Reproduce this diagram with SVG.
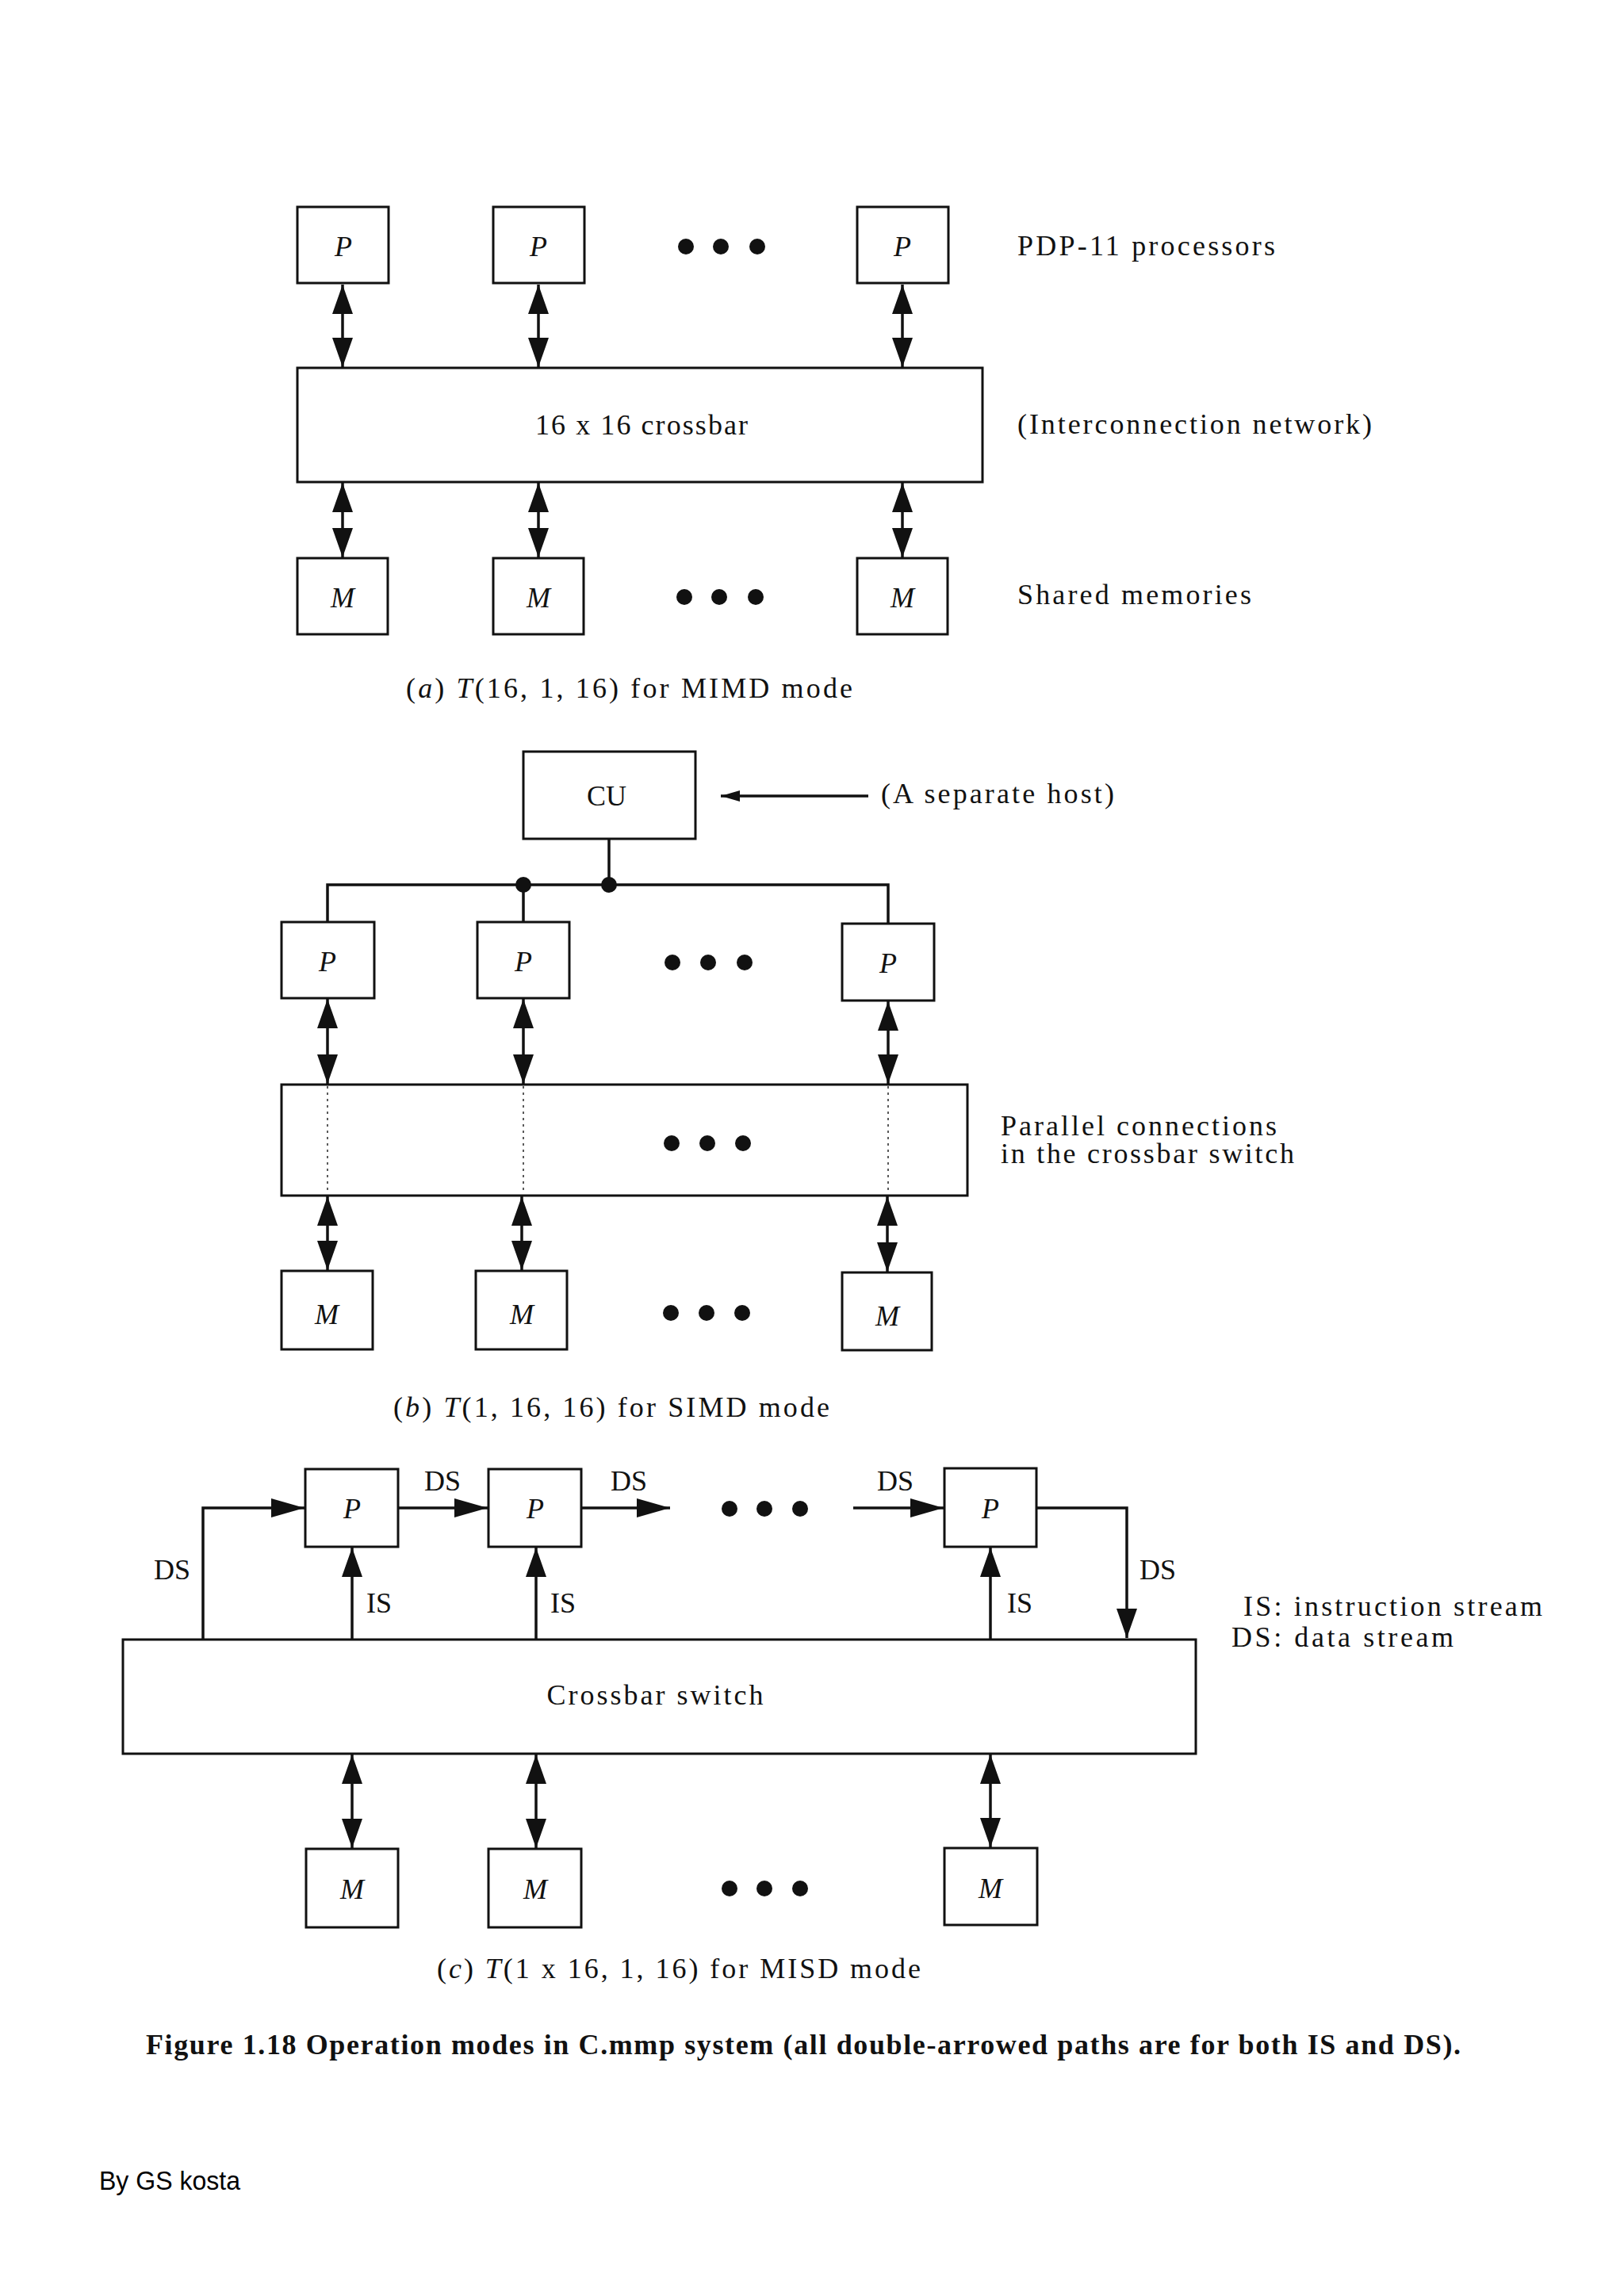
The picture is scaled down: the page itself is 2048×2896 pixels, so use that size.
<svg xmlns="http://www.w3.org/2000/svg" width="2048" height="2896" viewBox="0 0 2048 2896">
<defs>
<style>
.box{fill:#fff;stroke:#111;stroke-width:3}
.ln{fill:none;stroke:#111;stroke-width:3.5}
.dot{stroke:#333;stroke-width:1.6;stroke-dasharray:3 5}
.t{font-family:"Liberation Serif","Times New Roman",serif;font-size:36px;fill:#111}
.it{font-style:italic}
.c{text-anchor:middle}
.b{font-weight:bold}
.bd{fill:#111}
</style>
<marker id="ah" markerUnits="userSpaceOnUse" markerWidth="40" markerHeight="28" refX="37" refY="13" orient="auto-start-reverse" viewBox="0 0 40 28">
<path d="M0,0 L37,13 L0,26 z" fill="#111"/>
</marker>
<marker id="ahh" markerUnits="userSpaceOnUse" markerWidth="44" markerHeight="26" refX="42" refY="12" orient="auto-start-reverse" viewBox="0 0 44 26">
<path d="M0,0 L42,12 L0,24 z" fill="#111"/>
</marker>
<marker id="ahs" markerUnits="userSpaceOnUse" markerWidth="26" markerHeight="16" refX="24" refY="7" orient="auto" viewBox="0 0 26 16">
<path d="M0,0 L24,7 L0,14 z" fill="#111"/>
</marker>
</defs>
<rect width="2048" height="2896" fill="#fff"/>

<!-- (a) MIMD -->
<g id="a-P1"><rect class="box" x="375" y="261" width="115" height="96"/><text class="t it c" x="433" y="323">P</text></g>
<g id="a-P2"><rect class="box" x="622" y="261" width="115" height="96"/><text class="t it c" x="679" y="323">P</text></g>
<g id="a-P3"><rect class="box" x="1081" y="261" width="115" height="96"/><text class="t it c" x="1138" y="323">P</text></g>
<g id="a-dots-top"><circle class="bd" cx="865" cy="311" r="10"/><circle class="bd" cx="909" cy="311" r="10"/><circle class="bd" cx="955" cy="311" r="10"/></g>
<g id="a-crossbar"><rect class="box" x="375" y="464" width="864" height="144"/><text class="t c" x="809" y="548" textLength="268" lengthAdjust="spacing">16 x 16 crossbar</text></g>
<g id="a-M1"><rect class="box" x="375" y="704" width="114" height="96"/><text class="t it c" x="432" y="766">M</text></g>
<g id="a-M2"><rect class="box" x="622" y="704" width="114" height="96"/><text class="t it c" x="679" y="766">M</text></g>
<g id="a-M3"><rect class="box" x="1081" y="704" width="114" height="96"/><text class="t it c" x="1138" y="766">M</text></g>
<g id="a-dots-bot"><circle class="bd" cx="863" cy="753" r="10"/><circle class="bd" cx="907" cy="753" r="10"/><circle class="bd" cx="953" cy="753" r="10"/></g>
<g id="a-labels">
<text class="t" x="1283" y="322" textLength="325" lengthAdjust="spacing">PDP-11 processors</text>
<text class="t" x="1283" y="547" textLength="447" lengthAdjust="spacing">(Interconnection network)</text>
<text class="t" x="1283" y="762" textLength="295" lengthAdjust="spacing">Shared memories</text>
<text class="t" x="512" y="880" textLength="563" lengthAdjust="spacing">(<tspan class="it">a</tspan>) <tspan class="it">T</tspan>(16, 1, 16) for MIMD mode</text>
</g>

<!-- (b) SIMD -->
<g id="b-CU"><rect class="box" x="660" y="948" width="217" height="110"/><text class="t c" x="765" y="1016">CU</text></g>
<g id="b-host"><text class="t" x="1111" y="1013" textLength="294" lengthAdjust="spacing">(A separate host)</text></g>
<g id="b-P1"><rect class="box" x="355" y="1163" width="117" height="96"/><text class="t it c" x="413" y="1225">P</text></g>
<g id="b-P2"><rect class="box" x="602" y="1163" width="116" height="96"/><text class="t it c" x="660" y="1225">P</text></g>
<g id="b-P3"><rect class="box" x="1062" y="1165" width="116" height="97"/><text class="t it c" x="1120" y="1227">P</text></g>
<g id="b-dots-top"><circle class="bd" cx="848" cy="1214" r="10"/><circle class="bd" cx="893" cy="1214" r="10"/><circle class="bd" cx="939" cy="1214" r="10"/></g>
<g id="b-crossbar"><rect class="box" x="355" y="1368" width="865" height="140"/>
<line class="dot" x1="413" y1="1370" x2="413" y2="1506"/><line class="dot" x1="660" y1="1370" x2="660" y2="1506"/><line class="dot" x1="1120" y1="1370" x2="1120" y2="1506"/>
<circle class="bd" cx="847" cy="1442" r="10"/><circle class="bd" cx="892" cy="1442" r="10"/><circle class="bd" cx="937" cy="1442" r="10"/></g>
<g id="b-M1"><rect class="box" x="355" y="1603" width="115" height="99"/><text class="t it c" x="412" y="1670">M</text></g>
<g id="b-M2"><rect class="box" x="600" y="1603" width="115" height="99"/><text class="t it c" x="658" y="1670">M</text></g>
<g id="b-M3"><rect class="box" x="1062" y="1605" width="113" height="98"/><text class="t it c" x="1119" y="1672">M</text></g>
<g id="b-dots-bot"><circle class="bd" cx="846" cy="1656" r="10"/><circle class="bd" cx="891" cy="1656" r="10"/><circle class="bd" cx="936" cy="1656" r="10"/></g>
<g id="b-labels">
<text class="t" x="1262" y="1432" textLength="348" lengthAdjust="spacing">Parallel connections</text>
<text class="t" x="1262" y="1467" textLength="370" lengthAdjust="spacing">in the crossbar switch</text>
<text class="t" x="496" y="1787" textLength="550" lengthAdjust="spacing">(<tspan class="it">b</tspan>) <tspan class="it">T</tspan>(1, 16, 16) for SIMD mode</text>
</g>

<!-- (c) MISD -->
<g id="c-P1"><rect class="box" x="385" y="1853" width="117" height="98"/><text class="t it c" x="444" y="1915">P</text></g>
<g id="c-P2"><rect class="box" x="616" y="1853" width="117" height="98"/><text class="t it c" x="675" y="1915">P</text></g>
<g id="c-P3"><rect class="box" x="1191" y="1852" width="116" height="99"/><text class="t it c" x="1249" y="1915">P</text></g>
<g id="c-dots-top"><circle class="bd" cx="920" cy="1903" r="10"/><circle class="bd" cx="964" cy="1903" r="10"/><circle class="bd" cx="1009" cy="1903" r="10"/></g>
<g id="c-crossbar"><rect class="box" x="155" y="2068" width="1353" height="144"/><text class="t c" x="826" y="2150" textLength="273" lengthAdjust="spacing">Crossbar switch</text></g>
<g id="c-M1"><rect class="box" x="386" y="2332" width="116" height="99"/><text class="t it c" x="444" y="2395">M</text></g>
<g id="c-M2"><rect class="box" x="616" y="2332" width="117" height="99"/><text class="t it c" x="675" y="2395">M</text></g>
<g id="c-M3"><rect class="box" x="1191" y="2331" width="117" height="97"/><text class="t it c" x="1249" y="2394">M</text></g>
<g id="c-dots-bot"><circle class="bd" cx="920" cy="2382" r="10"/><circle class="bd" cx="964" cy="2382" r="10"/><circle class="bd" cx="1009" cy="2382" r="10"/></g>
<g id="c-labels">
<text class="t" x="535" y="1880">DS</text>
<text class="t" x="770" y="1880">DS</text>
<text class="t" x="1106" y="1880">DS</text>
<text class="t" x="194" y="1992">DS</text>
<text class="t" x="1437" y="1992">DS</text>
<text class="t" x="462" y="2034">IS</text>
<text class="t" x="694" y="2034">IS</text>
<text class="t" x="1270" y="2034">IS</text>
<text class="t" x="1568" y="2038" textLength="377" lengthAdjust="spacing">IS: instruction stream</text>
<text class="t" x="1553" y="2077" textLength="280" lengthAdjust="spacing">DS: data stream</text>
<text class="t" x="551" y="2495" textLength="610" lengthAdjust="spacing">(<tspan class="it">c</tspan>) <tspan class="it">T</tspan>(1 x 16, 1, 16) for MISD mode</text>
</g>

<g id="caption">
<text class="t b" x="184" y="2591" textLength="1658" lengthAdjust="spacing">Figure 1.18  Operation modes in C.mmp system (all double-arrowed paths are for both IS and DS).</text>
<text x="125" y="2762" font-family="'Liberation Sans','Open Sans',Arial,sans-serif" font-size="34" fill="#000" textLength="178" lengthAdjust="spacingAndGlyphs">By GS kosta</text>
</g>

<!-- connectors -->
<g id="connectors">
<line class="ln" x1="432" y1="359" x2="432" y2="463" marker-start="url(#ah)" marker-end="url(#ah)"/>
<line class="ln" x1="679" y1="359" x2="679" y2="463" marker-start="url(#ah)" marker-end="url(#ah)"/>
<line class="ln" x1="1138" y1="359" x2="1138" y2="463" marker-start="url(#ah)" marker-end="url(#ah)"/>
<line class="ln" x1="432" y1="609" x2="432" y2="703" marker-start="url(#ah)" marker-end="url(#ah)"/>
<line class="ln" x1="679" y1="609" x2="679" y2="703" marker-start="url(#ah)" marker-end="url(#ah)"/>
<line class="ln" x1="1138" y1="609" x2="1138" y2="703" marker-start="url(#ah)" marker-end="url(#ah)"/>

<line class="ln" x1="1095" y1="1004" x2="909" y2="1004" stroke-width="3" marker-end="url(#ahs)"/>
<line class="ln" x1="768" y1="1058" x2="768" y2="1116" stroke-width="3"/>
<polyline class="ln" stroke-width="3" points="413,1163 413,1116 1120,1116 1120,1165"/>
<line class="ln" x1="660" y1="1116" x2="660" y2="1163" stroke-width="3"/>
<circle class="bd" cx="660" cy="1116" r="10"/>
<circle class="bd" cx="768" cy="1116" r="10"/>
<line class="ln" x1="413" y1="1260" x2="413" y2="1367" marker-start="url(#ah)" marker-end="url(#ah)"/>
<line class="ln" x1="660" y1="1260" x2="660" y2="1367" marker-start="url(#ah)" marker-end="url(#ah)"/>
<line class="ln" x1="1120" y1="1263" x2="1120" y2="1367" marker-start="url(#ah)" marker-end="url(#ah)"/>
<line class="ln" x1="413" y1="1509" x2="413" y2="1602" marker-start="url(#ah)" marker-end="url(#ah)"/>
<line class="ln" x1="658" y1="1509" x2="658" y2="1602" marker-start="url(#ah)" marker-end="url(#ah)"/>
<line class="ln" x1="1119" y1="1509" x2="1119" y2="1604" marker-start="url(#ah)" marker-end="url(#ah)"/>

<polyline class="ln" points="256,2068 256,1902 384,1902" marker-end="url(#ahh)"/>
<line class="ln" x1="502" y1="1902" x2="615" y2="1902" marker-end="url(#ahh)"/>
<line class="ln" x1="733" y1="1902" x2="845" y2="1902" marker-end="url(#ahh)"/>
<line class="ln" x1="1076" y1="1902" x2="1190" y2="1902" marker-end="url(#ahh)"/>
<polyline class="ln" stroke-width="3" points="1307,1902 1421,1902 1421,2066" marker-end="url(#ah)"/>
<line class="ln" x1="444" y1="2067" x2="444" y2="1952" marker-end="url(#ah)"/>
<line class="ln" x1="676" y1="2067" x2="676" y2="1952" marker-end="url(#ah)"/>
<line class="ln" x1="1249" y1="2067" x2="1249" y2="1952" marker-end="url(#ah)"/>
<line class="ln" x1="444" y1="2213" x2="444" y2="2331" marker-start="url(#ah)" marker-end="url(#ah)"/>
<line class="ln" x1="676" y1="2213" x2="676" y2="2331" marker-start="url(#ah)" marker-end="url(#ah)"/>
<line class="ln" x1="1249" y1="2213" x2="1249" y2="2330" marker-start="url(#ah)" marker-end="url(#ah)"/>
</g>
</svg>
